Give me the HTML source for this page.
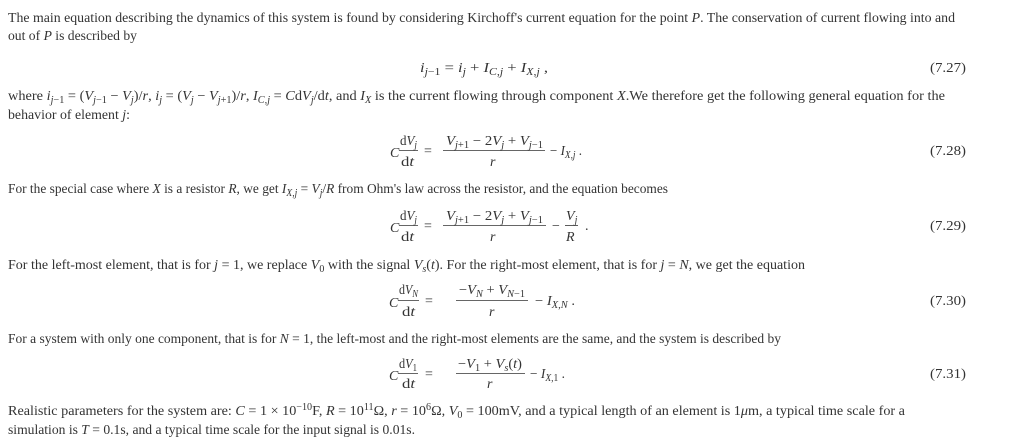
<!DOCTYPE html>
<html><head><meta charset="utf-8"><style>
html,body{margin:0;padding:0;background:#fff;}
svg{display:block;}
text{font-family:"Liberation Serif",serif;font-size:14px;fill:#333;}
.i{font-style:italic;}
.s{font-size:10px;}
</style></head><body>
<svg width="1024" height="440" viewBox="0 0 1024 440" xmlns="http://www.w3.org/2000/svg">
<text x="8" y="22" textLength="947" lengthAdjust="spacingAndGlyphs">The main equation describing the dynamics of this system is found by considering Kirchoff's current equation for the point <tspan class="i">P</tspan>. The conservation of current flowing into and</text>
<text x="8" y="40" textLength="129" lengthAdjust="spacingAndGlyphs">out of <tspan class="i">P</tspan> is described by</text>

<text x="420" y="72" textLength="128" lengthAdjust="spacingAndGlyphs"><tspan class="i">i</tspan><tspan class="s i" dy="3">j</tspan><tspan class="s" dy="0">−1</tspan><tspan dy="-3"> = </tspan><tspan class="i">i</tspan><tspan class="s i" dy="3">j</tspan><tspan dy="-3"> + </tspan><tspan class="i">I</tspan><tspan class="s i" dy="3">C,j</tspan><tspan dy="-3"> + </tspan><tspan class="i">I</tspan><tspan class="s i" dy="3">X,j</tspan><tspan dy="-3">  ,</tspan></text>
<text x="930" y="72" textLength="36" lengthAdjust="spacingAndGlyphs">(7.27)</text>

<text x="8" y="100" textLength="937" lengthAdjust="spacingAndGlyphs">where <tspan class="i">i</tspan><tspan class="s i" dy="3">j</tspan><tspan class="s">−1</tspan><tspan dy="-3"> = (</tspan><tspan class="i">V</tspan><tspan class="s i" dy="3">j</tspan><tspan class="s">−1</tspan><tspan dy="-3"> − </tspan><tspan class="i">V</tspan><tspan class="s i" dy="3">j</tspan><tspan dy="-3">)/</tspan><tspan class="i">r</tspan>, <tspan class="i">i</tspan><tspan class="s i" dy="3">j</tspan><tspan dy="-3"> = (</tspan><tspan class="i">V</tspan><tspan class="s i" dy="3">j</tspan><tspan dy="-3"> − </tspan><tspan class="i">V</tspan><tspan class="s i" dy="3">j</tspan><tspan class="s">+1</tspan><tspan dy="-3">)/</tspan><tspan class="i">r</tspan>, <tspan class="i">I</tspan><tspan class="s i" dy="3">C,j</tspan><tspan dy="-3"> = </tspan><tspan class="i">C</tspan>d<tspan class="i">V</tspan><tspan class="s i" dy="3">j</tspan><tspan dy="-3">/d</tspan><tspan class="i">t</tspan>, and <tspan class="i">I</tspan><tspan class="s i" dy="3">X</tspan><tspan dy="-3"> is the current flowing through component </tspan><tspan class="i">X</tspan>.We therefore get the following general equation for the</text>
<text x="8" y="119" textLength="122" lengthAdjust="spacingAndGlyphs">behavior of element <tspan class="i">j</tspan>:</text>

<!-- eq 7.28 -->
<text x="390" y="157" class="i">C</text>
<text x="400" y="145" textLength="17" lengthAdjust="spacingAndGlyphs">d<tspan class="i">V</tspan><tspan class="s i" dy="3">j</tspan></text>
<line x1="399" y1="150.5" x2="418" y2="150.5" stroke="#333" stroke-width="0.8"/>
<text x="401" y="166" textLength="13" lengthAdjust="spacingAndGlyphs">d<tspan class="i">t</tspan></text>
<text x="424" y="155">=</text>
<text x="446" y="145" textLength="97" lengthAdjust="spacingAndGlyphs"><tspan class="i">V</tspan><tspan class="s i" dy="3">j</tspan><tspan class="s">+1</tspan><tspan dy="-3"> − 2</tspan><tspan class="i">V</tspan><tspan class="s i" dy="3">j</tspan><tspan dy="-3"> + </tspan><tspan class="i">V</tspan><tspan class="s i" dy="3">j</tspan><tspan class="s">−1</tspan></text>
<line x1="443" y1="150.5" x2="545" y2="150.5" stroke="#333" stroke-width="0.8"/>
<text x="490" y="166" class="i">r</text>
<text x="550" y="155" textLength="32" lengthAdjust="spacingAndGlyphs">− <tspan class="i">I</tspan><tspan class="s i" dy="3">X,j</tspan><tspan dy="-3">  .</tspan></text>
<text x="930" y="155" textLength="36" lengthAdjust="spacingAndGlyphs">(7.28)</text>

<text x="8" y="193" textLength="660" lengthAdjust="spacingAndGlyphs">For the special case where <tspan class="i">X</tspan> is a resistor <tspan class="i">R</tspan>, we get <tspan class="i">I</tspan><tspan class="s i" dy="3">X,j</tspan><tspan dy="-3"> = </tspan><tspan class="i">V</tspan><tspan class="s i" dy="3">j</tspan><tspan dy="-3">/</tspan><tspan class="i">R</tspan> from Ohm's law across the resistor, and the equation becomes</text>

<!-- eq 7.29 -->
<text x="390" y="232" class="i">C</text>
<text x="400" y="220" textLength="17" lengthAdjust="spacingAndGlyphs">d<tspan class="i">V</tspan><tspan class="s i" dy="3">j</tspan></text>
<line x1="399" y1="225.5" x2="418" y2="225.5" stroke="#333" stroke-width="0.8"/>
<text x="401" y="241" textLength="13" lengthAdjust="spacingAndGlyphs">d<tspan class="i">t</tspan></text>
<text x="424" y="230">=</text>
<text x="446" y="220" textLength="97" lengthAdjust="spacingAndGlyphs"><tspan class="i">V</tspan><tspan class="s i" dy="3">j</tspan><tspan class="s">+1</tspan><tspan dy="-3"> − 2</tspan><tspan class="i">V</tspan><tspan class="s i" dy="3">j</tspan><tspan dy="-3"> + </tspan><tspan class="i">V</tspan><tspan class="s i" dy="3">j</tspan><tspan class="s">−1</tspan></text>
<line x1="443" y1="225.5" x2="546" y2="225.5" stroke="#333" stroke-width="0.8"/>
<text x="490" y="241" class="i">r</text>
<text x="552" y="230">−</text>
<text x="566" y="220"><tspan class="i">V</tspan><tspan class="s i" dy="3">j</tspan></text>
<line x1="565" y1="225.5" x2="578" y2="225.5" stroke="#333" stroke-width="0.8"/>
<text x="566" y="241" class="i">R</text>
<text x="585" y="230">.</text>
<text x="930" y="230" textLength="36" lengthAdjust="spacingAndGlyphs">(7.29)</text>

<text x="8" y="269" textLength="797" lengthAdjust="spacingAndGlyphs">For the left-most element, that is for <tspan class="i">j</tspan> = 1, we replace <tspan class="i">V</tspan><tspan class="s" dy="3">0</tspan><tspan dy="-3"> with the signal </tspan><tspan class="i">V</tspan><tspan class="s i" dy="3">s</tspan><tspan dy="-3">(</tspan><tspan class="i">t</tspan>). For the right-most element, that is for <tspan class="i">j</tspan> = <tspan class="i">N</tspan>, we get the equation</text>

<!-- eq 7.30 -->
<text x="389" y="307" class="i">C</text>
<text x="399" y="294" textLength="19" lengthAdjust="spacingAndGlyphs">d<tspan class="i">V</tspan><tspan class="s i" dy="3">N</tspan></text>
<line x1="398" y1="300.5" x2="419" y2="300.5" stroke="#333" stroke-width="0.8"/>
<text x="402" y="316" textLength="13" lengthAdjust="spacingAndGlyphs">d<tspan class="i">t</tspan></text>
<text x="425" y="305">=</text>
<text x="459" y="294" textLength="66" lengthAdjust="spacingAndGlyphs">−<tspan class="i">V</tspan><tspan class="s i" dy="3">N</tspan><tspan dy="-3"> + </tspan><tspan class="i">V</tspan><tspan class="s i" dy="3">N</tspan><tspan class="s">−1</tspan></text>
<line x1="456" y1="300.5" x2="528" y2="300.5" stroke="#333" stroke-width="0.8"/>
<text x="489" y="316" class="i">r</text>
<text x="535" y="305" textLength="40" lengthAdjust="spacingAndGlyphs">− <tspan class="i">I</tspan><tspan class="s i" dy="3">X,N</tspan><tspan dy="-3">  .</tspan></text>
<text x="930" y="305" textLength="36" lengthAdjust="spacingAndGlyphs">(7.30)</text>

<text x="8" y="343" textLength="773" lengthAdjust="spacingAndGlyphs">For a system with only one component, that is for <tspan class="i">N</tspan> = 1, the left-most and the right-most elements are the same, and the system is described by</text>

<!-- eq 7.31 -->
<text x="389" y="380" class="i">C</text>
<text x="399" y="368" textLength="18" lengthAdjust="spacingAndGlyphs">d<tspan class="i">V</tspan><tspan class="s" dy="3">1</tspan></text>
<line x1="398" y1="373.5" x2="418" y2="373.5" stroke="#333" stroke-width="0.8"/>
<text x="402" y="388" textLength="13" lengthAdjust="spacingAndGlyphs">d<tspan class="i">t</tspan></text>
<text x="425" y="378">=</text>
<text x="458" y="368" textLength="64" lengthAdjust="spacingAndGlyphs">−<tspan class="i">V</tspan><tspan class="s" dy="3">1</tspan><tspan dy="-3"> + </tspan><tspan class="i">V</tspan><tspan class="s i" dy="3">s</tspan><tspan dy="-3">(</tspan><tspan class="i">t</tspan>)</text>
<line x1="456" y1="373.5" x2="525" y2="373.5" stroke="#333" stroke-width="0.8"/>
<text x="487" y="388" class="i">r</text>
<text x="530" y="378" textLength="35" lengthAdjust="spacingAndGlyphs">− <tspan class="i">I</tspan><tspan class="s i" dy="3">X,</tspan><tspan class="s">1</tspan><tspan dy="-3">  .</tspan></text>
<text x="930" y="378" textLength="36" lengthAdjust="spacingAndGlyphs">(7.31)</text>

<text x="8" y="415" textLength="897" lengthAdjust="spacingAndGlyphs">Realistic parameters for the system are: <tspan class="i">C</tspan> = 1 × 10<tspan class="s" dy="-5">−10</tspan><tspan dy="5">F, </tspan><tspan class="i">R</tspan> = 10<tspan class="s" dy="-5">11</tspan><tspan dy="5">Ω, </tspan><tspan class="i">r</tspan> = 10<tspan class="s" dy="-5">6</tspan><tspan dy="5">Ω, </tspan><tspan class="i">V</tspan><tspan class="s" dy="3">0</tspan><tspan dy="-3"> = 100mV, and a typical length of an element is 1</tspan><tspan class="i">μ</tspan>m, a typical time scale for a</text>
<text x="8" y="434" textLength="407" lengthAdjust="spacingAndGlyphs">simulation is <tspan class="i">T</tspan> = 0.1s, and a typical time scale for the input signal is 0.01s.</text>
</svg>
</body></html>
